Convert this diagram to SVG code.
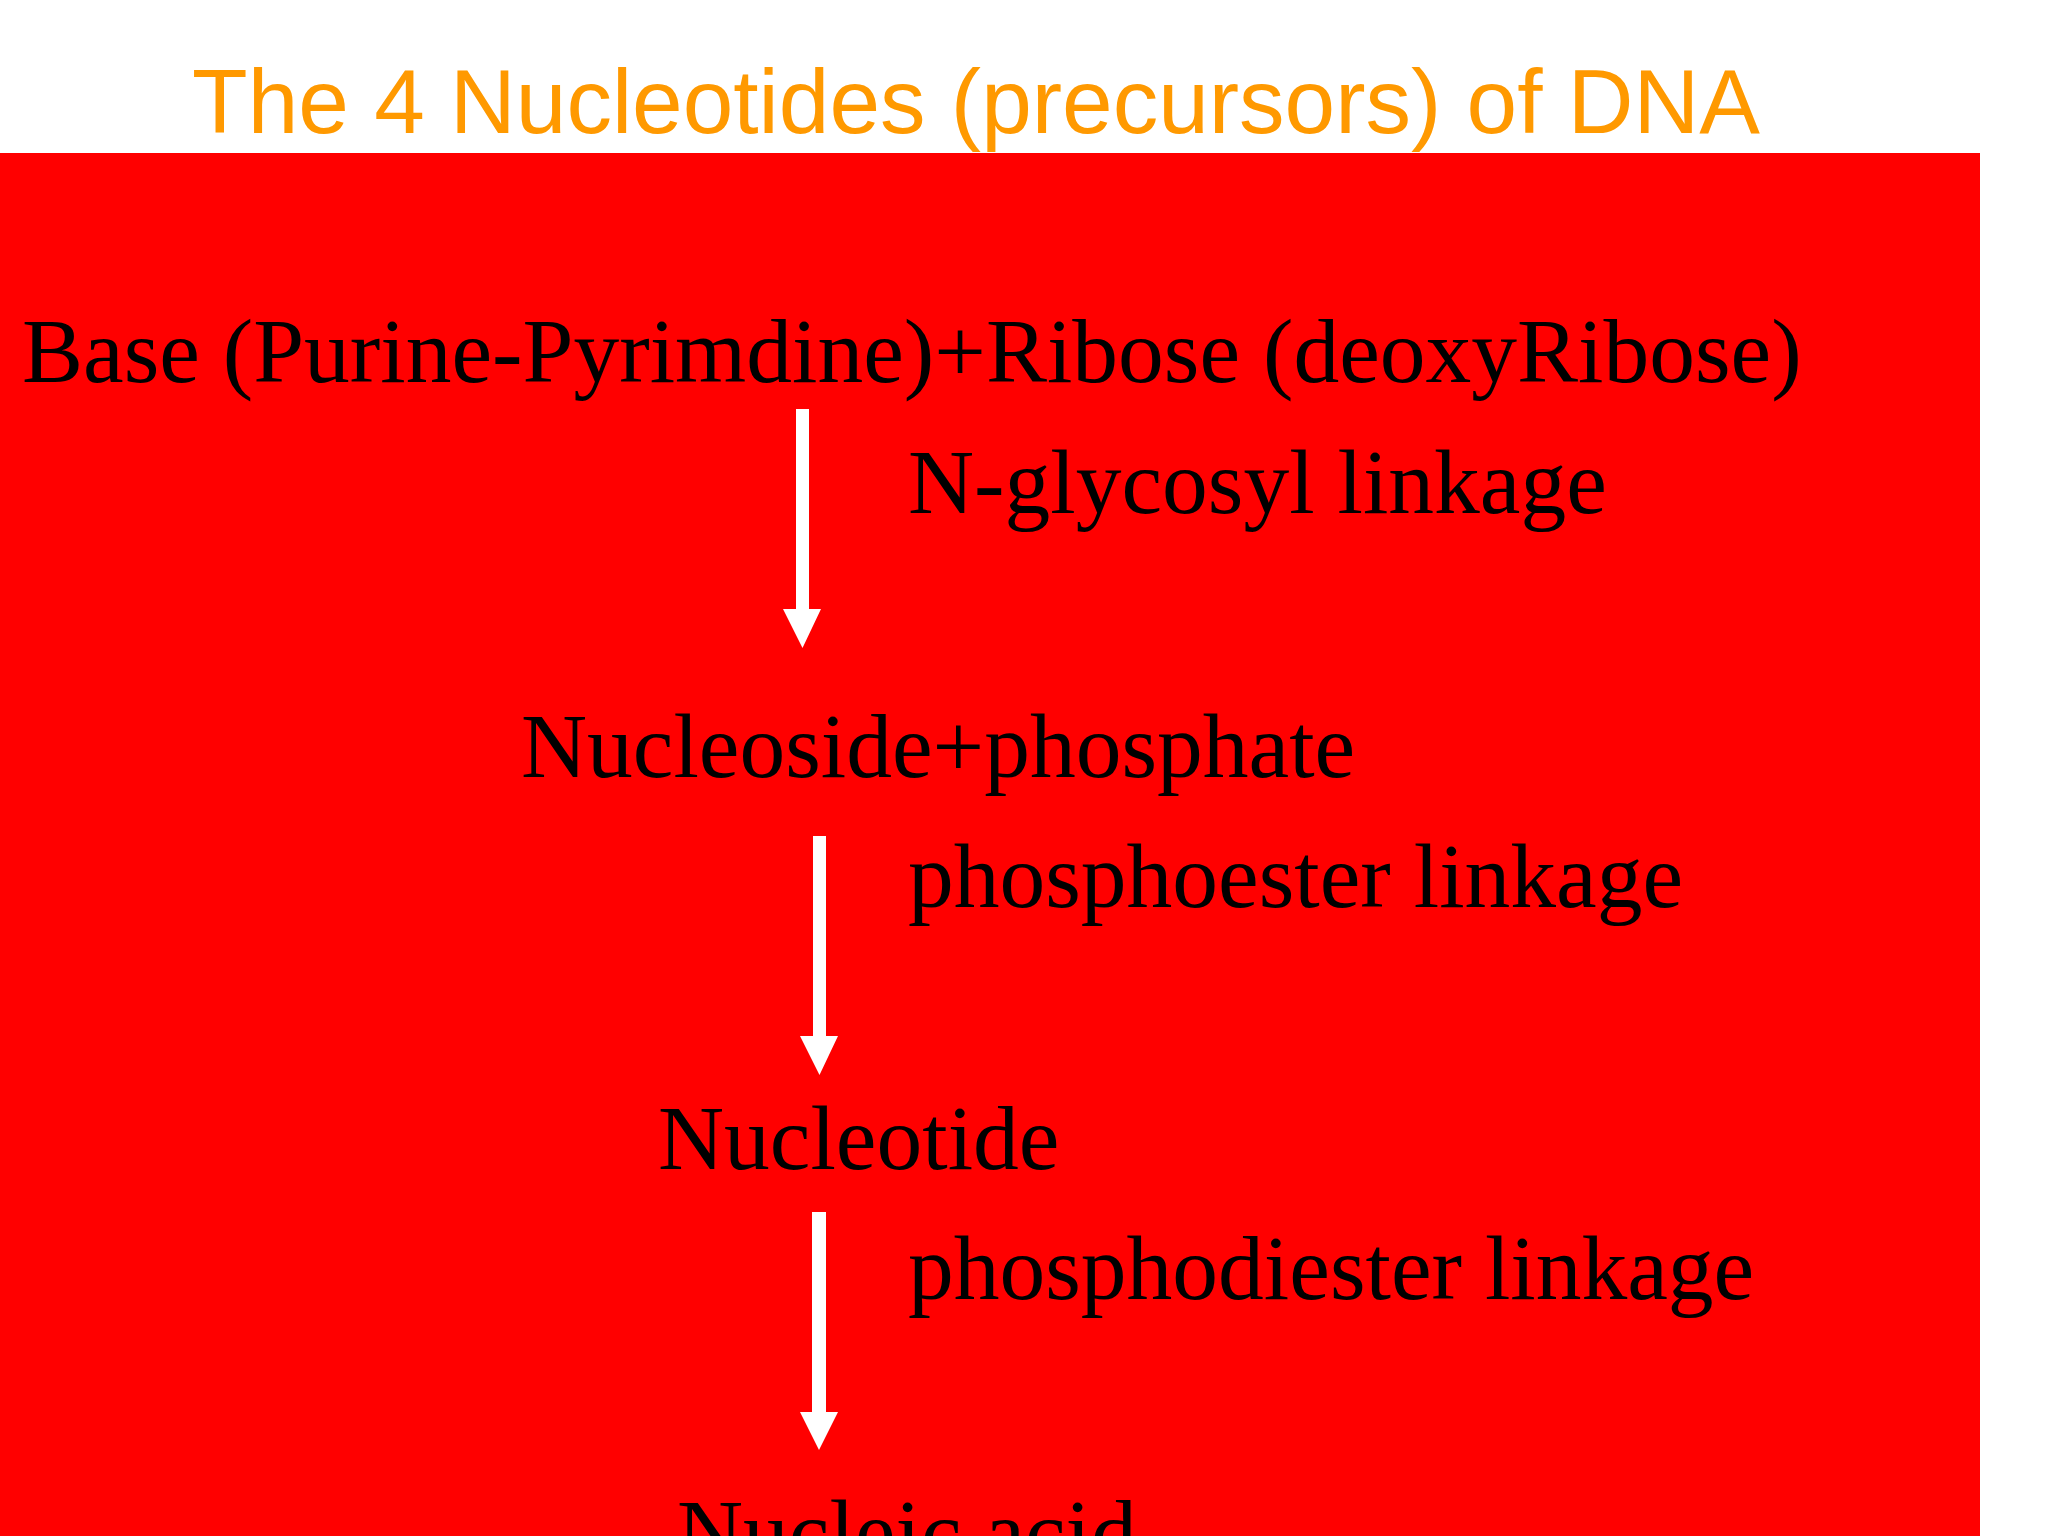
<svg xmlns="http://www.w3.org/2000/svg" width="2048" height="1536" viewBox="0 0 2048 1536">
<style>
.title{font-family:"Liberation Sans",Arial,sans-serif;font-size:91px;fill:#FF9900}
.t{font-family:"Liberation Serif","Times New Roman",serif;font-size:91.5px;fill:#000}
.arr{fill:#fff}
</style>
<rect width="2048" height="1536" fill="#fff"/>
<rect x="0" y="153" width="1980" height="1383" fill="#FF0000"/>
<text class="title" x="976" y="133" text-anchor="middle">The 4 Nucleotides (precursors) of DNA</text>
<g id="node-base"><text class="t" x="22" y="382">Base (Purine-Pyrimdine)+Ribose (deoxyRibose)</text></g>
<g id="node-nucleoside"><text class="t" x="521" y="777">Nucleoside+phosphate</text></g>
<g id="node-nucleotide"><text class="t" x="658" y="1169">Nucleotide</text></g>
<g id="node-nucleic"><text class="t" x="677" y="1563">Nucleic acid</text></g>
<g id="connectors">
<polygon class="arr" points="796,409 809,409 809,609 821,609 802.5,648 783,609 796,609"/>
<polygon class="arr" points="813,836 826,836 826,1036 838,1036 819.5,1075 800,1036 813,1036"/>
<polygon class="arr" points="812,1212 826,1212 826,1412 838,1412 819,1450 800,1412 812,1412"/>
<text class="t" x="908" y="513">N-glycosyl linkage</text>
<text class="t" x="908" y="907">phosphoester linkage</text>
<text class="t" x="908" y="1299">phosphodiester linkage</text>
</g>
</svg>
